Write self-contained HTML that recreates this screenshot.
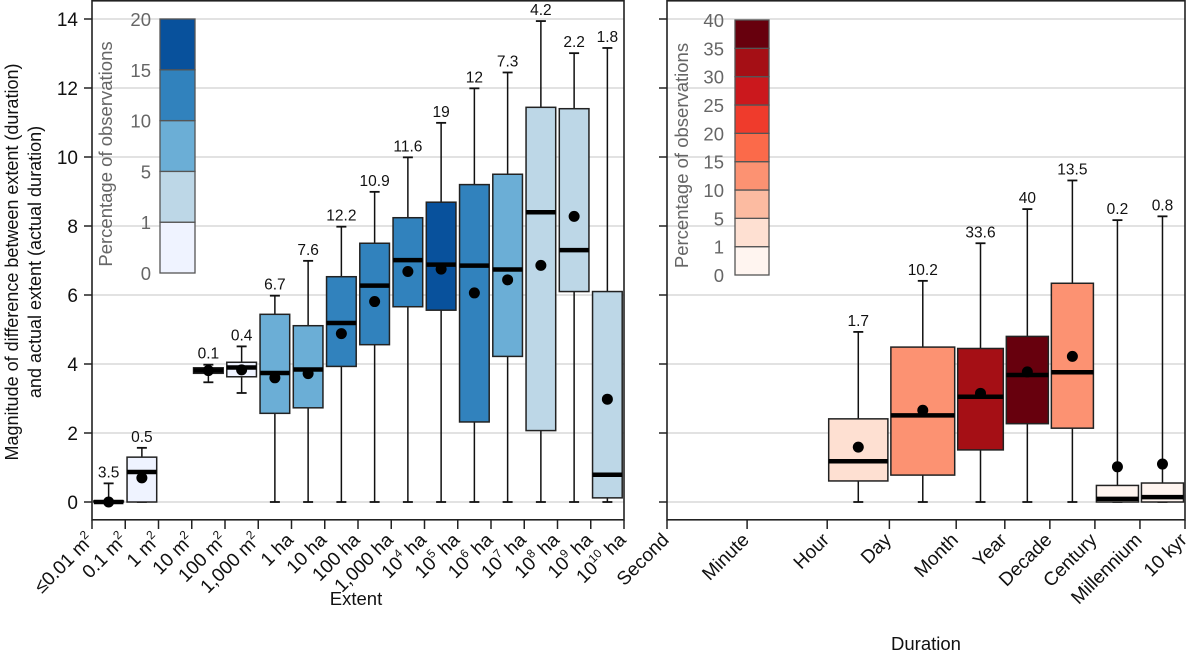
<!DOCTYPE html>
<html><head><meta charset="utf-8"><style>
body{margin:0;background:#fff;font-family:"Liberation Sans",Arial,sans-serif}
svg{display:block}
</style></head><body>
<svg id="c" width="1200" height="654" viewBox="0 0 1200 654"></svg>
<script>
// ---- Left panel (extent) data ----
const extentLabels=[["≤0.01 m","2"],["0.1 m","2"],["1 m","2"],["10 m","2"],["100 m","2"],["1,000 m","2"],["1 ha",""],["10 ha",""],["100 ha",""],["1,000 ha",""],["10","4"," ha"],["10","5"," ha"],["10","6"," ha"],["10","7"," ha"],["10","8"," ha"],["10","9"," ha"],["10","10"," ha"]];
const extentBins=[0,1,3,4,5,6,7,8,9,10,11,12,13,14,15];
const extentPct=[3.5,0.5,0.1,0.4,6.7,7.6,12.2,10.9,11.6,19,12,7.3,4.2,2.2,1.8];
const extentWhiskHi=[0.54,1.57,3.98,4.51,5.98,6.99,7.98,8.99,9.99,10.99,11.99,12.45,13.94,13.01,13.16];
const extentQ3=[0.03,1.3,3.89,4.05,5.44,5.11,6.53,7.5,8.24,8.69,9.2,9.5,11.44,11.4,6.1];
const extentMed=[0,0.87,3.81,3.9,3.74,3.84,5.19,6.27,7.01,6.88,6.85,6.74,8.4,7.3,0.79];
const extentQ1=[0,0,3.73,3.63,2.57,2.73,3.93,4.56,5.66,5.56,2.32,4.22,2.07,6.1,0.12];
const extentWhiskLo=[0,0,3.47,3.16,0,0,0,0,0,0,0,0,0,0,0];
const extentMean=[0,0.7,3.81,3.83,3.6,3.72,4.88,5.81,6.68,6.75,6.06,6.44,6.86,8.28,2.98];
// ---- Right panel (duration) data ----
const durLabels=["Second","Minute","Hour","Day","Month","Year","Decade","Century","Millennium","10 kyr"];
const durSeconds=[1,60,3600,86400,2.63e6,3.156e7,3.156e8,3.156e9,3.156e10,3.156e11];
const durBins=[2,3,4,5,6,7,8];
const durPct=[1.7,10.2,33.6,40,13.5,0.2,0.8];
const durWhiskHi=[4.93,6.41,7.5,8.49,9.32,8.17,8.28];
const durQ3=[2.41,4.49,4.45,4.8,6.34,0.48,0.55];
const durMed=[1.18,2.51,3.05,3.68,3.76,0.09,0.14];
const durQ1=[0.61,0.78,1.51,2.27,2.14,0,0];
const durWhiskLo=[0,0,0,0,0,0,0];
const durMean=[1.59,2.66,3.15,3.77,4.22,1.02,1.1];
const yTicks=[0,2,4,6,8,10,12,14];
const blueBreaks=[0,1,5,10,15,20];
const blueCols=["#eff3ff","#bdd7e7","#6baed6","#3182bd","#08519c"];
const redBreaks=[0,1,5,10,15,20,25,30,35,40];
const redCols=["#fff5f0","#fee0d2","#fcbba1","#fc9272","#fb6a4a","#ef3b2c","#cb181d","#a50f15","#67000d"];

const NS="http://www.w3.org/2000/svg",svg=document.getElementById('c');
function el(t,a,p){const e=document.createElementNS(NS,t);for(const k in a)e.setAttribute(k,a[k]);(p||svg).appendChild(e);return e;}
const Y=v=>502-34.5*v;
const L={x0:92,x1:624},R={x0:667,x1:1185};
const xL=i=>L.x0+i*(L.x1-L.x0)/(extentLabels.length-1);
const lmax=Math.log10(durSeconds[durSeconds.length-1]);
const xR=s=>R.x0+Math.log10(s)/lmax*(R.x1-R.x0);
function colFor(p,br,cols){for(let i=cols.length-1;i>=0;i--)if(p>br[i])return cols[i];return cols[0];}

// gridlines + frames
[[L,'left'],[R,'right']].forEach(([P,n])=>{
  yTicks.forEach(t=>{const g=el('line',{x1:P.x0,x2:P.x1,y1:Y(t),y2:Y(t),stroke:'#d9d9d9','stroke-width':1.5});
    
    const tk=el('line',{x1:P.x0-8,x2:P.x0,y1:Y(t),y2:Y(t),stroke:'#222','stroke-width':1.5});
    
    if(n==='left'){const tx=el('text',{x:P.x0-14,y:Y(t)+7,'text-anchor':'end','font-size':19,fill:'#111'});tx.textContent=t;
      }
  });
  const f=el('rect',{x:P.x0,y:0.8,width:P.x1-P.x0,height:519,fill:'none',stroke:'#222','stroke-width':1.6});
  
});

// colorbars
function colorbar(x,w,top,bot,br,cols,name,labX,titleX){
  const n=cols.length,h=(bot-top)/n;
  cols.forEach((c,i)=>{const r=el('rect',{x:x,y:bot-(i+1)*h,width:w,height:h,fill:c,stroke:'#555','stroke-width':1.3});
    });
  br.forEach((b,i)=>{const t=el('text',{x:labX,y:bot-i*h+7,'text-anchor':'end','font-size':18.5,fill:'#666'});t.textContent=b;
    });
  const t=el('text',{x:titleX,y:(top+bot)/2+8,'text-anchor':'middle','font-size':18.5,fill:'#666',transform:`rotate(-90 ${titleX} ${(top+bot)/2+8})`});
  t.textContent='Percentage of observations';
}
colorbar(160,35,19,273,blueBreaks,blueCols,'extent-colorbar',151,112);
colorbar(735,34,20,275,redBreaks,redCols,'duration-colorbar',724,688);

// boxes
function box(xa,xb,i,d,name,cols,br){
  const g=el('g',{});
  const xc=(xa+xb)/2;
  el('line',{x1:xc,x2:xc,y1:Y(d.hi[i]),y2:Y(d.lo[i]),stroke:'#111','stroke-width':1.5},g);
  el('line',{x1:xc-5,x2:xc+5,y1:Y(d.hi[i]),y2:Y(d.hi[i]),stroke:'#111','stroke-width':1.8},g);
  el('line',{x1:xc-5,x2:xc+5,y1:Y(d.lo[i]),y2:Y(d.lo[i]),stroke:'#111','stroke-width':1.8},g);
  el('rect',{x:xa,y:Y(d.q3[i]),width:xb-xa,height:Math.max(Y(d.q1[i])-Y(d.q3[i]),0.5),fill:colFor(d.pct[i],br,cols),stroke:'#222','stroke-width':1.5},g);
  el('line',{x1:xa,x2:xb,y1:Y(d.med[i]),y2:Y(d.med[i]),stroke:'#000','stroke-width':4.5},g);
  el('circle',{cx:xc,cy:Y(d.mean[i]),r:5.5,fill:'#000'},g);
  const t=el('text',{x:xc,y:Y(d.hi[i])-6,'text-anchor':'middle','font-size':15.5,fill:'#111'},g);t.textContent=d.pct[i];
}
const dL={hi:extentWhiskHi,q3:extentQ3,med:extentMed,q1:extentQ1,lo:extentWhiskLo,mean:extentMean,pct:extentPct};
extentBins.forEach((b,i)=>box(xL(b)+1.8,xL(b+1)-1.8,i,dL,'extent-box',blueCols,blueBreaks));
const dR={hi:durWhiskHi,q3:durQ3,med:durMed,q1:durQ1,lo:durWhiskLo,mean:durMean,pct:durPct};
durBins.forEach((b,i)=>box(xR(durSeconds[b])+1.5,xR(durSeconds[b+1])-1.5,i,dR,'duration-box',redCols,redBreaks));

// x ticks & labels
extentLabels.forEach((lb,i)=>{const x=xL(i);
  const tk=el('line',{x1:x,x2:x,y1:520,y2:529,stroke:'#222','stroke-width':1.5});
  const t=el('text',{x:x+3,y:541,'text-anchor':'end','font-size':19,fill:'#111',transform:`rotate(-45 ${x+3} 541)`});
  
  const a=el('tspan',{},t);a.textContent=lb[0];
  if(lb[1]){const s=el('tspan',{dy:-8,'font-size':12},t);s.textContent=lb[1];}
  if(lb[2]){const s=el('tspan',{dy:8},t);s.textContent=lb[2];}
});
durLabels.forEach((lb,i)=>{const x=xR(durSeconds[i]);
  const tk=el('line',{x1:x,x2:x,y1:520,y2:529,stroke:'#222','stroke-width':1.5});
  const t=el('text',{x:x+3,y:541,'text-anchor':'end','font-size':19,fill:'#111',transform:`rotate(-45 ${x+3} 541)`});t.textContent=lb;
  
});
</script>
<div style="position:absolute;left:0;top:0;width:1200px;height:654px;pointer-events:none">
<svg width="1200" height="654">
<text x="356" y="605" text-anchor="middle" font-size="18.5" fill="#111" font-family="Liberation Sans, sans-serif">Extent</text>
<text x="926" y="650" text-anchor="middle" font-size="18.5" fill="#111" font-family="Liberation Sans, sans-serif">Duration</text>
<text transform="translate(18 262) rotate(-90)" text-anchor="middle" font-size="18" fill="#111" font-family="Liberation Sans, sans-serif">Magnitude of difference between extent (duration)</text>
<text transform="translate(41 262) rotate(-90)" text-anchor="middle" font-size="18" fill="#111" font-family="Liberation Sans, sans-serif">and actual extent (actual duration)</text>
</svg></div>
</body></html>
